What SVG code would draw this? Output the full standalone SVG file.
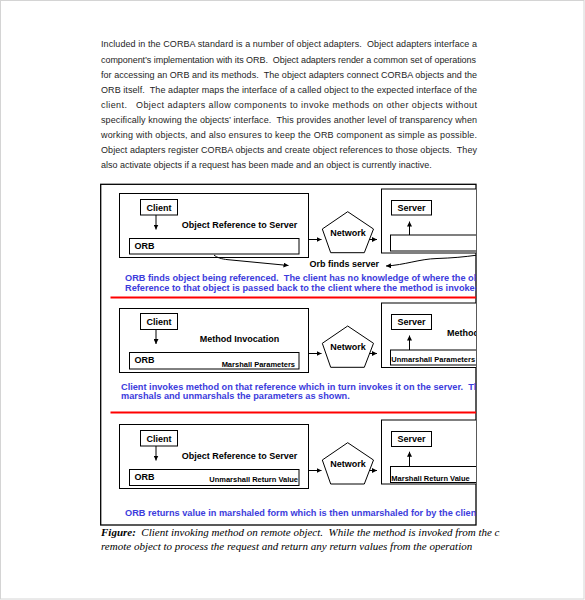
<svg xmlns="http://www.w3.org/2000/svg" width="585" height="600" viewBox="0 0 585 600">
<style>
.body{font-family:"Liberation Sans",Arial,sans-serif;font-size:9px;fill:#1e1e1e}
.b{font-family:"Liberation Sans",Arial,sans-serif;font-size:9px;font-weight:bold;fill:#000}
.s{font-family:"Liberation Sans",Arial,sans-serif;font-size:7.5px;font-weight:bold;fill:#000}
.blue{font-family:"Liberation Sans",Arial,sans-serif;font-size:9.2px;font-weight:bold;fill:#3c3cdc}
.cap{font-family:"Liberation Serif","Times New Roman",serif;font-size:11px;font-style:italic;fill:#000}
.box{fill:#fff;stroke:#000;stroke-width:1}
.ln{fill:none;stroke:#000;stroke-width:1}
.red{stroke:#ff0000;stroke-width:2}
</style>
<defs>
<marker id="ah" markerUnits="userSpaceOnUse" markerWidth="5" markerHeight="5" refX="5" refY="2.5" orient="auto">
<path d="M0,0 L5,2.5 L0,5 z" fill="#000"/>
</marker>
<clipPath id="fc"><rect x="101" y="184" width="375" height="341"/></clipPath>
<clipPath id="cc"><rect x="95" y="526" width="405" height="34"/></clipPath>
</defs>
<rect x="0.5" y="0.5" width="583.5" height="598.5" fill="#fff" stroke="#d4d4d4" stroke-width="1"/>
<g id="paragraph" class="body">
<text x="101" y="47.4" textLength="376" lengthAdjust="spacing" xml:space="preserve">Included in the CORBA standard is a number of object adapters.  Object adapters interface a</text>
<text x="101" y="62.5" textLength="375" lengthAdjust="spacing" xml:space="preserve">component’s implementation with its ORB.  Object adapters render a common set of operations</text>
<text x="101" y="77.6" textLength="376" lengthAdjust="spacing" xml:space="preserve">for accessing an ORB and its methods.  The object adapters connect CORBA objects and the</text>
<text x="101" y="92.7" textLength="376" lengthAdjust="spacing" xml:space="preserve">ORB itself.  The adapter maps the interface of a called object to the expected interface of the</text>
<text x="101" y="107.8" textLength="376" lengthAdjust="spacing" xml:space="preserve">client.   Object adapters allow components to invoke methods on other objects without</text>
<text x="101" y="122.9" textLength="376" lengthAdjust="spacing" xml:space="preserve">specifically knowing the objects’ interface.  This provides another level of transparency when</text>
<text x="101" y="138" textLength="376" lengthAdjust="spacing" xml:space="preserve">working with objects, and also ensures to keep the ORB component as simple as possible.</text>
<text x="101" y="153.1" textLength="376" lengthAdjust="spacing" xml:space="preserve">Object adapters register CORBA objects and create object references to those objects.  They</text>
<text x="101" y="168.2">also activate objects if a request has been made and an object is currently inactive.</text>
</g>
<rect id="frame" x="100.7" y="184.3" width="375.3" height="340.7" fill="none" stroke="#000" stroke-width="1.3"/>
<g clip-path="url(#fc)">
<!-- Panel 1 -->
<g id="p1-client-side"><rect class="box" x="119.5" y="193.5" width="189" height="64"/></g>
<g id="p1-client"><rect class="box" x="140.5" y="199.5" width="37" height="15.5"/><text class="b" x="159" y="210.5" text-anchor="middle">Client</text></g>
<text class="b" x="239.5" y="227.5" text-anchor="middle">Object Reference to Server</text>
<g id="p1-orb"><rect class="box" x="129.5" y="238.5" width="169.5" height="15.5"/><text class="b" x="134.5" y="248.5">ORB</text></g>
<g id="p1-network"><polygon class="box" points="347.7,211.7 373.5,229 364.3,252.7 330.7,252.7 322.3,229"/><text class="b" x="348" y="236" text-anchor="middle">Network</text></g>
<g id="p1-server-side"><rect class="box" x="381.5" y="189" width="130" height="64"/></g>
<g id="p1-server"><rect class="box" x="391.5" y="200.5" width="40" height="14.5"/><text class="b" x="411.5" y="211" text-anchor="middle">Server</text></g>
<g id="p1-server-orb"><rect class="box" x="390.5" y="235" width="110" height="16"/></g>
<text class="b" x="344.3" y="267" text-anchor="middle">Orb finds server</text>
<text class="blue" x="125" y="281" xml:space="preserve">ORB finds object being referenced.  The client has no knowledge of where the object</text>
<text class="blue" x="125" y="291">Reference to that object is passed back to the client where the method is invoked</text>
<line class="red" x1="110.5" y1="297.5" x2="476" y2="297.5"/>
<!-- Panel 2 -->
<g id="p2-client-side"><rect class="box" x="119.5" y="308.5" width="189" height="64"/></g>
<g id="p2-client"><rect class="box" x="140.5" y="313.5" width="37" height="16"/><text class="b" x="159" y="324.8" text-anchor="middle">Client</text></g>
<text class="b" x="239.5" y="341.5" text-anchor="middle">Method Invocation</text>
<g id="p2-orb"><rect class="box" x="129.5" y="352.5" width="169.5" height="16.5"/><text class="b" x="134.5" y="363.3">ORB</text><text class="s" x="295" y="366.5" text-anchor="end">Marshall Parameters</text></g>
<g id="p2-network"><polygon class="box" points="347.7,326 373.5,343.3 364.3,367.3 330.7,367.3 322.3,343.3"/><text class="b" x="348" y="350.3" text-anchor="middle">Network</text></g>
<g id="p2-server-side"><rect class="box" x="381.5" y="303" width="130" height="64.5"/><text class="b" x="447" y="335.7">Method Invocation</text></g>
<g id="p2-server"><rect class="box" x="391.5" y="314.5" width="40" height="15"/><text class="b" x="411.5" y="325.2" text-anchor="middle">Server</text></g>
<g id="p2-server-orb"><rect class="box" x="390.5" y="350" width="110" height="15"/><text class="s" x="391.3" y="362.3">Unmarshall Parameters</text></g>
<text class="blue" x="121" y="389.5" xml:space="preserve">Client invokes method on that reference which in turn invokes it on the server.  The</text>
<text class="blue" x="121" y="398.5">marshals and unmarshals the parameters as shown.</text>
<line class="red" x1="110.5" y1="412.5" x2="476" y2="412.5"/>
<!-- Panel 3 -->
<g id="p3-client-side"><rect class="box" x="119.5" y="424.5" width="189" height="64"/></g>
<g id="p3-client"><rect class="box" x="140.5" y="430.5" width="37" height="15.5"/><text class="b" x="159" y="441.5" text-anchor="middle">Client</text></g>
<text class="b" x="239.5" y="458.7" text-anchor="middle">Object Reference to Server</text>
<g id="p3-orb"><rect class="box" x="129.5" y="469.5" width="169.5" height="16"/><text class="b" x="134.5" y="480">ORB</text><text class="s" x="298" y="482" text-anchor="end">Unmarshall Return Value</text></g>
<g id="p3-network"><polygon class="box" points="347.7,442.7 373.5,460 364.3,484 330.7,484 322.3,460"/><text class="b" x="348" y="467" text-anchor="middle">Network</text></g>
<g id="p3-server-side"><rect class="box" x="381.5" y="420" width="130" height="64"/></g>
<g id="p3-server"><rect class="box" x="391.5" y="431.5" width="40" height="15"/><text class="b" x="411.5" y="442.4" text-anchor="middle">Server</text></g>
<g id="p3-server-orb"><rect class="box" x="390.5" y="466.5" width="110" height="16"/><text class="s" x="391.3" y="481.3">Marshall Return Value</text></g>
<text class="blue" x="125" y="516">ORB returns value in marshaled form which is then unmarshaled for by the client</text>
<!-- Connectors -->
<g id="connectors" class="ln">
<line x1="156" y1="215" x2="156" y2="229.5" marker-end="url(#ah)"/>
<line x1="308.5" y1="239.5" x2="321.5" y2="239.5" marker-end="url(#ah)"/>
<line x1="369.3" y1="239.5" x2="377" y2="239.5" marker-end="url(#ah)"/>
<line x1="409.5" y1="235" x2="409.5" y2="221.5" marker-end="url(#ah)"/>
<path d="M214,255 C217,257.5 221,259 228,259.7 L288.5,265.5" marker-end="url(#ah)"/>
<path d="M478,255 C464,257 452,258 437,258.5 C419,259 405,265 386,266" marker-end="url(#ah)"/>
<line x1="156" y1="329.5" x2="156" y2="344" marker-end="url(#ah)"/>
<line x1="308.5" y1="353.5" x2="321.5" y2="353.5" marker-end="url(#ah)"/>
<line x1="369.3" y1="353.5" x2="377" y2="353.5" marker-end="url(#ah)"/>
<line x1="409.5" y1="350" x2="409.5" y2="335.5" marker-end="url(#ah)"/>
<line x1="156" y1="446" x2="156" y2="460.5" marker-end="url(#ah)"/>
<line x1="308.5" y1="470.5" x2="321.5" y2="470.5" marker-end="url(#ah)"/>
<line x1="369.3" y1="470.5" x2="377" y2="470.5" marker-end="url(#ah)"/>
<line x1="409.5" y1="466.5" x2="409.5" y2="451.7" marker-end="url(#ah)"/>
</g>
</g>
<g id="caption" class="cap" clip-path="url(#cc)">
<text x="101" y="536" xml:space="preserve"><tspan font-weight="bold">Figure:</tspan>  Client invoking method on remote object.  While the method is invoked from the client</text>
<text x="101" y="549.5">remote object to process the request and return any return values from the operation</text>
</g>
</svg>
